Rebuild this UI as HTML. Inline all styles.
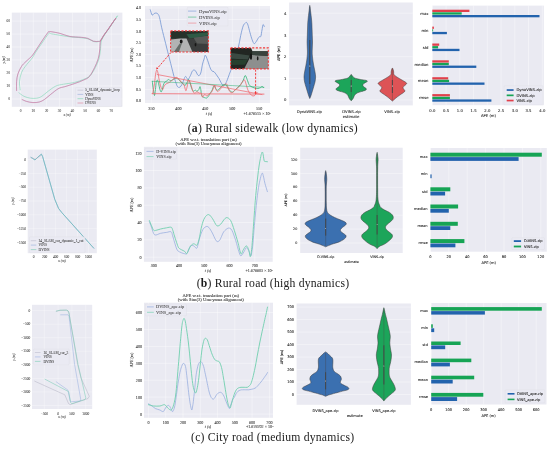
<!DOCTYPE html>
<html lang="en"><head><meta charset="utf-8"><title>APE comparison figure</title>
<style>
html,body{margin:0;padding:0;background:#fff;}
body{width:550px;height:449px;overflow:hidden;}
svg{display:block;}
.ss{font-family:"DejaVu Sans","Liberation Sans",sans-serif;stroke:#2a2a2a;stroke-width:0.1px;}
.se{font-family:"Liberation Serif","DejaVu Serif",serif;stroke:#3a3a3a;stroke-width:0.08px;}
.sei{font-family:"Liberation Serif","DejaVu Serif",serif;font-style:italic;stroke:#3a3a3a;stroke-width:0.08px;}
.lt{stroke-width:0.05px;}
.cap{font-family:"Liberation Serif","DejaVu Serif",serif;}
</style></head><body>
<svg width="550" height="449" viewBox="0 0 550 449">
<defs><filter id="bl" x="-10%" y="-10%" width="120%" height="120%"><feGaussianBlur stdDeviation="0.55"/></filter><filter id="soft" x="0" y="0" width="100%" height="100%" filterUnits="userSpaceOnUse"><feGaussianBlur stdDeviation="0.32"/></filter></defs>
<rect width="550" height="449" fill="#fff"/>
<g filter="url(#soft)">
<rect x="11.8" y="12.6" width="110.6" height="94.2" fill="#eaeaf2"/>
<path d="M20.5,12.6V106.8M33.3,12.6V106.8M46.6,12.6V106.8M59.4,12.6V106.8M72.4,12.6V106.8M85.2,12.6V106.8M98.5,12.6V106.8M111.3,12.6V106.8M11.8,21.1H122.4M11.8,34.1H122.4M11.8,47.0H122.4M11.8,59.9H122.4M11.8,73.0H122.4M11.8,85.9H122.4M11.8,99.0H122.4" stroke="#fff" stroke-width="0.38" fill="none"/>
<text x="9.9" y="22.3" font-size="3.4" text-anchor="end" class="se lt" fill="#444">60</text>
<text x="9.9" y="35.3" font-size="3.4" text-anchor="end" class="se lt" fill="#444">50</text>
<text x="9.9" y="48.2" font-size="3.4" text-anchor="end" class="se lt" fill="#444">40</text>
<text x="9.9" y="61.1" font-size="3.4" text-anchor="end" class="se lt" fill="#444">30</text>
<text x="9.9" y="74.2" font-size="3.4" text-anchor="end" class="se lt" fill="#444">20</text>
<text x="9.9" y="87.1" font-size="3.4" text-anchor="end" class="se lt" fill="#444">10</text>
<text x="9.9" y="100.2" font-size="3.4" text-anchor="end" class="se lt" fill="#444">0</text>
<text x="20.5" y="111.6" font-size="3.4" text-anchor="middle" class="se lt" fill="#444">0</text>
<text x="33.3" y="111.6" font-size="3.4" text-anchor="middle" class="se lt" fill="#444">10</text>
<text x="46.6" y="111.6" font-size="3.4" text-anchor="middle" class="se lt" fill="#444">20</text>
<text x="59.4" y="111.6" font-size="3.4" text-anchor="middle" class="se lt" fill="#444">30</text>
<text x="72.4" y="111.6" font-size="3.4" text-anchor="middle" class="se lt" fill="#444">40</text>
<text x="85.2" y="111.6" font-size="3.4" text-anchor="middle" class="se lt" fill="#444">50</text>
<text x="98.5" y="111.6" font-size="3.4" text-anchor="middle" class="se lt" fill="#444">60</text>
<text x="111.3" y="111.6" font-size="3.4" text-anchor="middle" class="se lt" fill="#444">70</text>
<text x="67.0" y="115.6" font-size="3.4" text-anchor="middle" class="sei lt" fill="#444">x (m)</text>
<text transform="translate(4.5,60.0) rotate(-90)" font-size="3.4" text-anchor="middle" class="sei lt" fill="#444">y (m)</text>
<path d="M20.2,89.9C20.1,88.5 19.3,84.5 19.5,81.6C19.7,78.7 20.5,75.2 21.5,72.7C22.5,70.2 23.5,68.9 25.3,66.4C27.1,63.9 30.6,60.2 32.3,57.9C34.0,55.5 34.0,54.8 35.6,52.3C37.2,49.8 39.9,46.1 42.0,43.0C44.1,39.9 47.1,35.5 48.4,33.9C49.7,32.3 49.4,33.4 50.0,33.4C50.6,33.4 50.1,33.6 51.8,33.9C53.5,34.2 57.0,34.8 60.0,35.3C63.0,35.8 66.4,36.4 70.0,36.8C73.6,37.2 78.4,37.4 81.5,37.8C84.6,38.2 86.5,38.4 88.5,39.0C90.5,39.6 92.1,41.2 93.8,41.6C95.5,42.0 97.6,41.9 98.8,41.6C100.0,41.3 100.2,41.3 101.2,40.0C102.2,38.7 103.7,35.9 105.0,34.0C106.3,32.1 107.7,30.3 109.0,28.4C110.3,26.5 111.6,24.4 113.0,22.4C114.4,20.3 116.6,17.2 117.3,16.1" stroke="#86d8b8" stroke-width="0.65" fill="none" stroke-linejoin="round" stroke-linecap="round" opacity="1"/>
<path d="M117.3,16.1C116.6,17.2 114.4,20.3 113.0,22.4C111.6,24.4 110.3,26.5 109.0,28.4C107.7,30.3 106.2,32.0 105.0,34.0C103.8,36.0 102.3,38.5 101.6,40.2C100.9,41.9 101.1,42.4 100.9,44.0C100.7,45.6 100.7,47.5 100.4,50.0C100.1,52.5 99.8,55.9 99.0,58.8C98.2,61.7 96.8,64.8 95.3,67.6C93.8,70.4 92.1,73.7 90.1,75.7C88.1,77.7 86.1,78.3 83.5,79.4C80.9,80.5 78.0,81.6 74.7,82.4C71.4,83.2 66.7,83.6 63.5,84.2C60.4,84.8 58.3,84.9 55.8,86.1C53.2,87.3 50.5,89.5 48.2,91.2C45.9,92.9 43.7,95.1 41.8,96.3C39.9,97.5 38.6,97.9 36.7,98.2C34.8,98.5 32.5,98.5 30.4,98.2C28.3,97.9 25.9,97.2 24.0,96.3C22.1,95.4 19.8,93.4 18.9,92.8" stroke="#86d8b8" stroke-width="0.65" fill="none" stroke-linejoin="round" stroke-linecap="round" opacity="1"/>
<path d="M16.6,90.5C16.6,89.0 16.4,84.3 16.6,81.6C16.8,78.8 17.1,76.5 17.9,74.0C18.7,71.5 20.4,68.2 21.5,66.4C22.6,64.6 22.9,64.5 24.5,62.9C26.1,61.3 29.7,58.2 31.2,56.7C32.7,55.2 31.9,56.1 33.4,54.0C34.9,51.9 37.6,47.6 40.0,44.0C42.4,40.4 46.3,34.5 47.9,32.5C49.5,30.5 49.0,31.9 49.5,31.8C50.0,31.7 49.4,31.4 51.2,31.7C53.0,32.0 57.0,32.6 60.1,33.4C63.2,34.2 66.5,35.9 70.0,36.5C73.5,37.1 78.1,37.0 81.1,37.3C84.1,37.6 85.8,37.8 87.8,38.4C89.8,39.0 91.6,40.7 93.4,41.2C95.2,41.7 97.2,41.5 98.4,41.4C99.6,41.3 99.7,41.5 100.6,40.4C101.5,39.3 102.8,36.8 104.0,35.0C105.2,33.2 106.7,31.4 108.0,29.5C109.3,27.6 110.7,25.5 112.0,23.6C113.3,21.8 115.1,19.3 115.7,18.4" stroke="#a596cc" stroke-width="0.75" fill="none" stroke-linejoin="round" stroke-linecap="round" opacity="0.7"/>
<path d="M115.7,18.4C115.1,19.3 113.3,21.8 112.0,23.6C110.7,25.5 109.3,27.6 108.0,29.5C106.7,31.4 105.2,33.2 104.0,35.0C102.8,36.8 101.5,38.9 100.8,40.4C100.1,41.9 100.3,42.4 100.1,44.0C99.9,45.6 100.0,47.5 99.7,50.0C99.4,52.5 99.1,55.9 98.2,58.8C97.3,61.7 96.1,64.6 94.6,67.6C93.1,70.5 91.2,74.4 89.4,76.5C87.6,78.6 86.0,78.9 83.5,80.1C81.0,81.3 77.8,82.4 74.7,83.5C71.6,84.6 67.4,85.9 64.7,86.7C62.0,87.5 60.7,87.3 58.4,88.6C56.1,89.9 53.0,92.6 50.7,94.4C48.4,96.2 46.3,98.2 44.4,99.5C42.5,100.8 41.2,101.5 39.3,102.0C37.4,102.5 35.0,102.7 32.9,102.6C30.8,102.5 28.3,101.9 26.5,101.4C24.7,100.9 22.8,99.8 22.1,99.5" stroke="#a596cc" stroke-width="0.75" fill="none" stroke-linejoin="round" stroke-linecap="round" opacity="0.7"/>
<path d="M16.6,90.5C16.6,89.0 16.4,84.3 16.6,81.6C16.8,78.8 17.1,76.5 17.9,74.0C18.7,71.5 20.4,68.2 21.5,66.4C22.6,64.6 22.9,64.5 24.5,62.9C26.1,61.3 29.7,58.2 31.2,56.7C32.7,55.2 31.9,56.1 33.4,54.0C34.9,51.9 37.6,47.6 40.0,44.0C42.4,40.4 46.3,34.5 47.9,32.5C49.5,30.5 49.0,31.9 49.5,31.8C50.0,31.7 49.4,31.4 51.2,31.7C53.0,32.0 57.0,32.6 60.1,33.4C63.2,34.2 66.5,35.9 70.0,36.5C73.5,37.1 78.1,37.0 81.1,37.3C84.1,37.6 85.8,37.8 87.8,38.4C89.8,39.0 91.6,40.7 93.4,41.2C95.2,41.7 97.2,41.5 98.4,41.4C99.6,41.3 99.7,41.5 100.6,40.4C101.5,39.3 102.8,36.8 104.0,35.0C105.2,33.2 106.7,31.4 108.0,29.5C109.3,27.6 110.7,25.5 112.0,23.6C113.3,21.8 115.1,19.3 115.7,18.4" stroke="#da6c88" stroke-width="0.45" fill="none" stroke-linejoin="round" stroke-linecap="round" opacity="1"/>
<path d="M115.7,18.4C115.1,19.3 113.3,21.8 112.0,23.6C110.7,25.5 109.3,27.6 108.0,29.5C106.7,31.4 105.2,33.2 104.0,35.0C102.8,36.8 101.5,38.9 100.8,40.4C100.1,41.9 100.3,42.4 100.1,44.0C99.9,45.6 100.0,47.5 99.7,50.0C99.4,52.5 99.1,55.9 98.2,58.8C97.3,61.7 96.1,64.6 94.6,67.6C93.1,70.5 91.2,74.4 89.4,76.5C87.6,78.6 86.0,78.9 83.5,80.1C81.0,81.3 77.8,82.4 74.7,83.5C71.6,84.6 67.4,85.9 64.7,86.7C62.0,87.5 60.7,87.3 58.4,88.6C56.1,89.9 53.0,92.6 50.7,94.4C48.4,96.2 46.3,98.2 44.4,99.5C42.5,100.8 41.2,101.5 39.3,102.0C37.4,102.5 35.0,102.7 32.9,102.6C30.8,102.5 28.3,101.9 26.5,101.4C24.7,100.9 22.8,99.8 22.1,99.5" stroke="#da6c88" stroke-width="0.45" fill="none" stroke-linejoin="round" stroke-linecap="round" opacity="1"/>
<rect x="75.5" y="87.5" width="46.3" height="19.1" fill="#eaeaf2" fill-opacity="0.8" stroke="#d8d8e0" stroke-width="0.3" rx="0.8"/>
<path d="M77.5,90.2H83.3" stroke="#c4c4d2" stroke-width="0.65"/>
<text x="85.3" y="91.4" font-size="3.45" text-anchor="start" class="se lt" fill="#444">5_SLAM_dynamic_loop</text>
<path d="M77.5,94.4H83.3" stroke="#9fb2dc" stroke-width="0.65"/>
<text x="85.3" y="95.6" font-size="3.45" text-anchor="start" class="se lt" fill="#444">VINS</text>
<path d="M77.5,98.7H83.3" stroke="#86d8b8" stroke-width="0.65"/>
<text x="85.3" y="99.9" font-size="3.45" text-anchor="start" class="se lt" fill="#444">DynaVINS</text>
<path d="M77.5,103.0H83.3" stroke="#e08a9e" stroke-width="0.65"/>
<text x="85.3" y="104.2" font-size="3.45" text-anchor="start" class="se lt" fill="#444">DVINS</text>
<rect x="145" y="6.2" width="125.0" height="96.6" fill="#eaeaf2"/>
<path d="M151.4,6.2V102.8M178.4,6.2V102.8M205.3,6.2V102.8M232.3,6.2V102.8M259.3,6.2V102.8M145,7.9H270M145,19.5H270M145,31.1H270M145,42.8H270M145,54.6H270M145,65.9H270M145,77.6H270M145,89.4H270M145,101.0H270" stroke="#fff" stroke-width="0.38" fill="none"/>
<text x="141.0" y="9.3" font-size="4.1" text-anchor="end" class="se" fill="#3a3a3a">4.0</text>
<text x="141.0" y="20.9" font-size="4.1" text-anchor="end" class="se" fill="#3a3a3a">3.5</text>
<text x="141.0" y="32.5" font-size="4.1" text-anchor="end" class="se" fill="#3a3a3a">3.0</text>
<text x="141.0" y="44.2" font-size="4.1" text-anchor="end" class="se" fill="#3a3a3a">2.5</text>
<text x="141.0" y="56.0" font-size="4.1" text-anchor="end" class="se" fill="#3a3a3a">2.0</text>
<text x="141.0" y="67.3" font-size="4.1" text-anchor="end" class="se" fill="#3a3a3a">1.5</text>
<text x="141.0" y="79.0" font-size="4.1" text-anchor="end" class="se" fill="#3a3a3a">1.0</text>
<text x="141.0" y="90.8" font-size="4.1" text-anchor="end" class="se" fill="#3a3a3a">0.5</text>
<text x="141.0" y="102.4" font-size="4.1" text-anchor="end" class="se" fill="#3a3a3a">0.0</text>
<text x="151.4" y="109.8" font-size="4.1" text-anchor="middle" class="se" fill="#3a3a3a">350</text>
<text x="178.4" y="109.8" font-size="4.1" text-anchor="middle" class="se" fill="#3a3a3a">400</text>
<text x="205.3" y="109.8" font-size="4.1" text-anchor="middle" class="se" fill="#3a3a3a">450</text>
<text x="232.3" y="109.8" font-size="4.1" text-anchor="middle" class="se" fill="#3a3a3a">500</text>
<text x="259.3" y="109.8" font-size="4.1" text-anchor="middle" class="se" fill="#3a3a3a">550</text>
<text x="209.0" y="114.8" font-size="4.1" text-anchor="middle" class="sei" fill="#3a3a3a">t (s)</text>
<text x="271.0" y="114.8" font-size="4.1" text-anchor="end" class="se" fill="#3a3a3a">+1.676515 × 10⁹</text>
<text transform="translate(133.0,55.0) rotate(-90)" font-size="4.1" text-anchor="middle" class="se" fill="#3a3a3a">APE (m)</text>
<path d="M150.3,9.8C150.6,10.7 151.5,14.4 152.1,15.0C152.7,15.6 153.4,13.9 154.1,13.6C154.8,13.3 155.4,12.9 156.1,13.0C156.8,13.1 157.6,13.5 158.2,14.3C158.8,15.1 159.0,15.5 159.6,17.7C160.2,19.9 160.9,24.3 161.6,27.3C162.3,30.3 162.9,32.8 163.6,35.5C164.3,38.2 165.0,41.0 165.7,43.7C166.4,46.4 167.0,49.1 167.7,51.8C168.4,54.5 169.2,57.5 169.8,60.0C170.5,62.5 170.9,64.3 171.6,67.1C172.3,69.8 173.3,73.8 174.0,76.5C174.7,79.2 175.4,81.3 176.0,83.0C176.6,84.7 176.9,85.9 177.5,86.6C178.1,87.3 178.7,87.5 179.3,87.4C179.9,87.3 180.4,86.8 181.0,86.0C181.6,85.2 182.2,83.9 182.8,82.5C183.4,81.1 184.1,78.7 184.6,77.7C185.1,76.7 185.4,76.4 185.8,76.5C186.2,76.6 186.6,77.8 187.0,78.3C187.4,78.8 187.5,80.0 188.1,79.5C188.7,79.0 189.8,76.8 190.5,75.4C191.2,74.0 191.7,72.1 192.3,71.2C192.9,70.3 193.4,70.0 194.0,70.0C194.6,70.0 195.2,70.4 195.8,71.2C196.4,72.0 197.0,74.1 197.6,74.8C198.2,75.5 198.8,75.9 199.4,75.4C200.0,74.9 200.6,73.7 201.1,71.8C201.6,69.9 202.0,66.2 202.5,64.1C203.0,62.0 203.6,60.5 204.1,59.0C204.6,57.5 204.7,55.0 205.3,55.2C205.9,55.4 206.8,58.2 207.6,60.3C208.4,62.4 209.4,66.1 210.2,67.9C210.9,69.7 211.5,70.5 212.1,71.1C212.7,71.7 213.3,71.1 214.0,71.7C214.7,72.3 215.7,73.7 216.5,74.9C217.3,76.1 218.3,77.4 219.1,78.7C219.8,80.0 220.4,81.4 221.0,82.5C221.6,83.6 222.3,84.7 222.9,85.1C223.5,85.5 224.2,85.3 224.8,84.7C225.4,84.1 225.9,83.0 226.7,81.3C227.4,79.6 228.6,76.3 229.3,74.3C230.1,72.3 230.3,71.9 231.2,69.2C232.1,66.5 233.3,61.7 234.5,58.0C235.7,54.3 237.4,50.9 238.4,47.1C239.4,43.4 239.9,39.0 240.7,35.5C241.5,32.0 242.4,27.9 243.2,25.9C243.9,23.8 244.6,23.8 245.2,23.2C245.8,22.6 246.1,22.2 246.6,22.5C247.1,22.8 247.4,23.5 248.0,25.2C248.6,26.9 249.3,30.3 250.0,32.7C250.7,35.1 251.4,37.8 252.1,39.6C252.8,41.4 253.4,43.4 254.1,43.7C254.8,44.0 255.5,42.5 256.2,41.6C256.9,40.7 257.6,39.0 258.2,38.2C258.8,37.4 259.2,36.9 259.6,36.6C260.1,36.3 260.5,37.3 260.9,36.2C261.3,35.1 261.6,31.9 262.0,30.0C262.4,28.1 262.6,25.2 263.0,24.6C263.4,24.0 264.1,26.3 264.3,26.6" stroke="#6a8fd0" stroke-width="0.75" fill="none" stroke-linejoin="round" stroke-linecap="round" opacity="1"/>
<path d="M152.3,81.3C152.5,82.7 152.9,87.2 153.3,89.6C153.7,92.0 154.2,95.5 154.5,95.5C154.8,95.5 155.1,91.8 155.4,89.6C155.7,87.4 155.9,84.1 156.2,82.5C156.5,80.9 157.0,79.9 157.4,80.1C157.8,80.3 158.2,82.1 158.6,83.6C159.0,85.1 159.4,87.6 159.8,89.0C160.2,90.4 160.6,91.7 161.0,91.9C161.4,92.1 161.7,91.2 162.1,90.1C162.5,89.0 162.9,86.7 163.3,85.4C163.7,84.1 164.0,83.2 164.5,82.5C165.0,81.8 165.6,81.8 166.3,81.3C167.0,80.8 167.9,79.6 168.6,79.5C169.3,79.4 169.8,80.6 170.4,80.7C171.0,80.8 171.6,80.4 172.2,80.1C172.8,79.8 173.3,79.2 174.0,78.9C174.7,78.6 175.5,78.2 176.3,78.3C177.1,78.4 177.9,78.9 178.7,79.5C179.5,80.1 180.2,81.1 181.0,81.9C181.8,82.7 182.7,83.6 183.4,84.2C184.1,84.8 184.6,85.7 185.2,85.4C185.8,85.1 186.4,83.5 187.0,82.5C187.6,81.5 188.0,79.5 188.5,79.5C189.0,79.5 189.4,81.0 189.9,82.5C190.4,84.0 191.1,86.9 191.7,88.4C192.3,89.9 192.9,91.0 193.5,91.3C194.1,91.6 194.6,90.1 195.2,90.1C195.8,90.1 196.4,91.4 197.0,91.3C197.6,91.2 198.3,90.4 198.8,89.6C199.3,88.8 199.7,86.6 200.0,86.6C200.3,86.6 200.5,88.0 200.8,89.6C201.1,91.1 201.2,94.5 201.9,95.9C202.6,97.3 204.2,97.5 205.1,97.8C205.9,98.1 206.3,98.3 207.0,97.8C207.7,97.3 208.7,95.9 209.5,94.6C210.3,93.3 211.3,91.7 212.1,90.2C212.8,88.7 213.4,85.9 214.0,85.7C214.6,85.5 215.3,88.2 215.9,88.9C216.5,89.7 217.1,90.4 217.8,90.2C218.6,90.0 219.6,88.4 220.4,87.6C221.2,86.8 222.1,85.6 222.9,85.1C223.8,84.6 224.8,84.2 225.5,84.5C226.2,84.8 226.7,86.0 227.4,87.0C228.1,88.0 229.1,90.0 229.9,90.8C230.8,91.6 231.7,92.2 232.5,92.1C233.3,92.0 234.2,91.0 235.0,90.2C235.8,89.5 236.6,88.5 237.5,87.6C238.4,86.6 239.7,85.8 240.7,84.5C241.7,83.2 242.6,81.5 243.3,80.0C244.1,78.5 244.6,75.6 245.2,75.5C245.8,75.4 246.5,77.9 247.1,79.4C247.7,80.9 248.4,83.3 249.0,84.5C249.6,85.7 250.0,85.8 250.9,86.4C251.8,87.0 253.5,87.7 254.7,88.0C255.9,88.3 256.9,88.6 257.9,88.5C258.9,88.4 259.8,87.9 260.5,87.6C261.2,87.2 261.5,86.4 262.0,86.4C262.5,86.4 263.3,87.4 263.6,87.6" stroke="#2fb474" stroke-width="0.8" fill="none" stroke-linejoin="round" stroke-linecap="round" opacity="1"/>
<path d="M152.7,93.7C153.0,92.0 154.0,86.8 154.5,83.6C155.0,80.3 155.2,76.5 155.6,74.2C156.0,71.9 156.4,70.2 156.8,70.0C157.2,69.8 157.6,71.3 158.0,73.0C158.4,74.7 158.7,77.7 159.2,80.1C159.7,82.5 160.4,85.6 161.0,87.2C161.6,88.8 162.2,89.7 162.7,89.6C163.2,89.5 163.4,87.5 163.9,86.6C164.4,85.7 165.0,84.8 165.7,84.2C166.4,83.6 167.2,83.4 168.0,83.0C168.8,82.6 169.6,82.5 170.4,81.9C171.2,81.3 172.0,80.2 172.8,79.5C173.6,78.8 174.4,78.0 175.1,77.7C175.8,77.4 176.2,77.2 176.9,77.5C177.6,77.8 178.5,78.7 179.3,79.5C180.1,80.3 180.8,81.6 181.6,82.5C182.4,83.4 183.3,83.4 184.0,84.8C184.7,86.2 185.3,90.3 185.8,90.7C186.3,91.1 186.6,88.7 187.0,87.2C187.4,85.7 187.7,83.0 188.1,81.9C188.5,80.8 188.8,80.1 189.3,80.7C189.8,81.3 190.5,83.6 191.1,85.4C191.7,87.2 192.3,90.0 192.9,91.3C193.5,92.6 193.9,93.0 194.6,93.1C195.3,93.2 196.2,91.9 197.0,91.9C197.8,91.9 198.7,92.8 199.4,93.1C200.1,93.3 200.8,92.7 201.3,93.4C201.8,94.1 202.0,97.0 202.5,97.2C203.0,97.4 203.8,94.8 204.5,94.6C205.2,94.4 206.3,96.0 207.0,95.9C207.7,95.8 208.2,94.6 208.9,94.0C209.7,93.4 210.8,93.0 211.5,92.1C212.2,91.1 212.9,89.5 213.4,88.3C213.9,87.1 214.2,84.9 214.6,85.1C215.0,85.3 215.4,88.4 215.9,89.5C216.4,90.6 217.1,91.6 217.8,91.5C218.6,91.4 219.6,89.8 220.4,88.9C221.2,88.1 222.0,87.2 222.9,86.4C223.8,85.6 225.3,83.9 226.1,83.8C226.8,83.7 226.9,84.5 227.4,85.7C227.9,86.9 228.6,89.6 229.3,90.8C230.0,92.0 231.0,92.7 231.8,92.7C232.7,92.7 233.6,91.5 234.4,90.8C235.2,90.1 236.1,89.0 236.9,88.3C237.8,87.6 238.7,87.4 239.5,86.4C240.3,85.4 241.2,83.6 242.0,82.5C242.8,81.4 243.9,79.9 244.5,80.0C245.1,80.1 245.3,81.8 245.8,83.2C246.3,84.6 246.8,86.8 247.3,88.3C247.8,89.8 248.3,90.9 249.0,92.1C249.7,93.3 250.7,94.7 251.5,95.3C252.3,95.9 253.3,96.1 254.1,95.9C254.8,95.7 255.5,94.5 256.0,94.0C256.5,93.5 257.1,92.9 257.3,92.7" stroke="#f0686f" stroke-width="0.8" fill="none" stroke-linejoin="round" stroke-linecap="round" opacity="1"/>
<path d="M157.2,74.5 L262.0,94.6" stroke="#f0686f" stroke-width="0.8" fill="none" stroke-linejoin="round" stroke-linecap="round" opacity="0.9"/>
<path d="M152.0,93.7 L264.0,94.1" stroke="#f0686f" stroke-width="0.9" fill="none" stroke-linejoin="round" stroke-linecap="round" opacity="0.9"/>
<path d="M152.3,81.3 L264.0,87.3" stroke="#2fb474" stroke-width="0.7" fill="none" stroke-linejoin="round" stroke-linecap="round" opacity="0.75"/>
<rect x="187.2" y="7.1" width="40.8" height="18.9" fill="#eaeaf2" fill-opacity="0.8" stroke="#d8d8e0" stroke-width="0.3" rx="0.8"/>
<path d="M188,11.1H196.4" stroke="#7d9cd8" stroke-width="0.65"/>
<text x="199.1" y="12.7" font-size="4.6" text-anchor="start" class="se lt" fill="#444">DynaVINS.zip</text>
<path d="M188,17.1H196.4" stroke="#4fbc86" stroke-width="0.65"/>
<text x="199.1" y="18.7" font-size="4.6" text-anchor="start" class="se lt" fill="#444">DVINS.zip</text>
<path d="M188,23.1H196.4" stroke="#f0828a" stroke-width="0.65"/>
<text x="199.1" y="24.7" font-size="4.6" text-anchor="start" class="se lt" fill="#444">VINS.zip</text>
<g transform="translate(170.6,30.9)">
<clipPath id="c1"><rect width="37.8" height="21.1"/></clipPath>
<g clip-path="url(#c1)"><g filter="url(#bl)">
<rect x="-2" y="-2" width="41.8" height="25.1" fill="#3b3e3c"/>
<rect x="-2" y="-2" width="41.8" height="9.6" fill="#28312c"/>
<polygon points="22.7,6.3 39.8,4.6 39.8,13.1 26.5,12.7" fill="#585a59"/>
<polygon points="-2,23.1 -2,8.9 9.5,7.6 15.9,7.6 22.7,23.1" fill="#b2b3b3"/>
<polygon points="1.9,23.1 9.1,12.7 11.3,12.7 7.6,23.1" fill="#666d69"/>
<polygon points="15.9,3.4 39.8,1.3 39.8,4.2 18.9,7.6" fill="#2f5a45"/>
<ellipse cx="10.6" cy="10.6" rx="1.4" ry="2" fill="#141414"/>
<ellipse cx="24.9" cy="13.9" rx="0.9" ry="1.8" fill="#161616"/>
</g></g>
<rect width="37.8" height="21.1" fill="none" stroke="#f23a3a" stroke-width="1.1" stroke-dasharray="2.1 1.5"/>
</g>
<g transform="translate(230.6,47.9)">
<clipPath id="c2"><rect width="37.7" height="21.0"/></clipPath>
<g clip-path="url(#c2)"><g filter="url(#bl)">
<rect x="-2" y="-2" width="41.7" height="25.0" fill="#202622"/>
<polygon points="12.4,23.000000000000007 20.7,7.1 39.70000000000002,8.0 39.70000000000002,23.000000000000007" fill="#8d8f8e"/>
<polygon points="19.6,-2 39.70000000000002,-2 39.70000000000002,3.4 21.9,3.4" fill="#e4e5e5"/>
<polygon points="21.9,3.4 39.70000000000002,3.4 39.70000000000002,8.0 21.1,7.1" fill="#38433c"/>
<polygon points="-2,4.6 18.9,7.6 17.3,11.6 -2,10.5" fill="#3b4a42"/>
<polygon points="-2,11.6 17.0,12.2 14.3,16.8 -2,17.2" fill="#26402f"/>
<ellipse cx="20.4" cy="8.8" rx="1.1" ry="3.2" fill="#121212"/>
<ellipse cx="27.1" cy="10.5" rx="0.8" ry="2.1" fill="#1c1c1c"/>
</g></g>
<rect width="37.7" height="21.0" fill="none" stroke="#f23a3a" stroke-width="1.1" stroke-dasharray="2.1 1.5"/>
</g>
<path d="M171,52.4 L156.8,69" stroke="#f03030" stroke-width="0.9" stroke-dasharray="2.2 1.2" fill="none"/>
<path d="M255.6,69.5 V92.5" stroke="#f03030" stroke-width="0.9" stroke-dasharray="2.2 1.4" fill="none"/>
<path d="M255.6,94.5 l-1.1,-2.6 h2.2z" fill="#f03030"/>
<path d="M156.3,69.6 l0.4,-2.6 1.7,1.5z" fill="#f03030"/>
<rect x="289.1" y="2.5" width="123.7" height="102.9" fill="#eaeaf2"/>
<path d="M289.1,13.2H412.8M289.1,35.0H412.8M289.1,56.7H412.8M289.1,78.3H412.8M289.1,99.9H412.8" stroke="#fff" stroke-width="0.38" fill="none"/>
<text x="286.3" y="14.7" font-size="3.75" text-anchor="end" class="ss" fill="#2a2a2a">4</text>
<text x="286.3" y="36.5" font-size="3.75" text-anchor="end" class="ss" fill="#2a2a2a">3</text>
<text x="286.3" y="58.2" font-size="3.75" text-anchor="end" class="ss" fill="#2a2a2a">2</text>
<text x="286.3" y="79.8" font-size="3.75" text-anchor="end" class="ss" fill="#2a2a2a">1</text>
<text x="286.3" y="101.4" font-size="3.75" text-anchor="end" class="ss" fill="#2a2a2a">0</text>
<text transform="translate(280.3,53.5) rotate(-90)" font-size="3.75" text-anchor="middle" class="ss" fill="#2a2a2a">APE (m)</text>
<path d="M309.9,5.5C310.0,6.1 310.2,7.8 310.3,9.0C310.4,10.2 310.6,11.5 310.8,13.0C311.0,14.5 311.2,16.2 311.4,18.0C311.6,19.8 311.8,22.0 311.9,24.0C312.0,26.0 312.0,28.0 312.1,30.0C312.2,32.0 312.2,34.0 312.3,36.0C312.4,38.0 312.5,40.0 312.5,42.0C312.5,44.0 312.4,46.0 312.3,48.0C312.2,50.0 312.1,52.0 312.2,54.0C312.3,56.0 312.5,58.0 312.8,60.0C313.1,62.0 313.4,64.0 313.8,66.0C314.2,68.0 314.7,70.2 315.0,72.0C315.3,73.8 315.6,75.3 315.6,77.0C315.6,78.7 315.3,80.3 315.0,82.0C314.7,83.7 314.0,85.5 313.6,87.0C313.2,88.5 312.8,89.7 312.4,91.0C312.0,92.3 311.6,93.8 311.2,95.0C310.8,96.2 310.1,97.8 309.9,98.4L309.7,98.4C309.5,97.8 308.8,96.2 308.4,95.0C308.0,93.8 307.6,92.3 307.2,91.0C306.8,89.7 306.4,88.5 306.0,87.0C305.6,85.5 304.9,83.7 304.6,82.0C304.3,80.3 304.0,78.7 304.0,77.0C304.0,75.3 304.3,73.8 304.6,72.0C304.9,70.2 305.4,68.0 305.8,66.0C306.2,64.0 306.5,62.0 306.8,60.0C307.1,58.0 307.3,56.0 307.4,54.0C307.5,52.0 307.4,50.0 307.3,48.0C307.2,46.0 307.1,44.0 307.1,42.0C307.1,40.0 307.2,38.0 307.3,36.0C307.4,34.0 307.4,32.0 307.5,30.0C307.6,28.0 307.6,26.0 307.7,24.0C307.8,22.0 308.0,19.8 308.2,18.0C308.4,16.2 308.6,14.5 308.8,13.0C309.0,11.5 309.2,10.2 309.3,9.0C309.4,7.8 309.6,6.1 309.7,5.5Z" fill="#3a6fb0" stroke="#3a3a3a" stroke-width="0.5" stroke-linejoin="round"/>
<path d="M309.8,7V97.5" stroke="#444" stroke-width="0.35"/><path d="M309.8,40V84" stroke="#444" stroke-width="0.9"/><circle cx="309.8" cy="66" r="0.5" fill="#fff"/>
<path d="M351.3,74.4C351.5,74.7 351.9,75.4 352.5,76.0C353.1,76.6 353.3,77.4 354.6,78.0C355.9,78.6 358.3,79.0 360.2,79.4C362.1,79.8 364.5,80.0 365.7,80.3C366.9,80.6 367.4,80.8 367.4,81.2C367.4,81.6 366.3,82.0 365.7,82.4C365.1,82.8 364.0,83.3 363.5,83.8C363.0,84.3 362.8,84.7 362.8,85.2C362.8,85.7 363.2,86.3 363.7,86.8C364.2,87.3 365.4,87.8 365.8,88.2C366.2,88.6 366.5,88.9 366.4,89.3C366.3,89.7 366.1,90.0 365.2,90.4C364.3,90.8 362.5,91.2 361.2,91.6C359.9,92.0 358.2,92.5 357.2,93.0C356.2,93.5 355.7,94.0 355.2,94.5C354.7,95.0 354.5,95.4 354.2,96.0C353.9,96.6 353.7,97.4 353.4,98.0C353.1,98.6 352.8,99.1 352.4,99.6C352.0,100.0 351.5,100.5 351.3,100.7L351.1,100.7C350.9,100.5 350.4,100.0 350.0,99.6C349.6,99.1 349.3,98.6 349.0,98.0C348.7,97.4 348.5,96.6 348.2,96.0C347.9,95.4 347.7,95.0 347.2,94.5C346.7,94.0 346.2,93.5 345.2,93.0C344.2,92.5 342.5,92.0 341.2,91.6C339.9,91.2 338.1,90.8 337.2,90.4C336.3,90.0 336.1,89.7 336.0,89.3C335.9,88.9 336.1,88.6 336.6,88.2C337.0,87.8 338.2,87.3 338.7,86.8C339.2,86.3 339.6,85.7 339.6,85.2C339.6,84.7 339.4,84.3 338.9,83.8C338.4,83.3 337.3,82.8 336.7,82.4C336.1,82.0 335.0,81.6 335.0,81.2C335.0,80.8 335.5,80.6 336.7,80.3C337.9,80.0 340.3,79.8 342.2,79.4C344.1,79.0 346.5,78.6 347.8,78.0C349.1,77.4 349.3,76.6 349.9,76.0C350.4,75.4 350.9,74.7 351.1,74.4Z" fill="#1fa55a" stroke="#3a3a3a" stroke-width="0.5" stroke-linejoin="round"/>
<path d="M351.2,75V100.3" stroke="#444" stroke-width="0.35"/><path d="M351.2,80V92" stroke="#444" stroke-width="0.9"/><circle cx="351.2" cy="86" r="0.5" fill="#fff"/>
<path d="M392.5,68.0C392.6,68.3 393.1,69.3 393.3,70.0C393.5,70.7 393.6,71.3 393.7,72.0C393.8,72.7 393.5,73.4 393.7,74.0C393.9,74.6 394.3,75.0 394.8,75.5C395.3,76.0 395.7,76.2 396.9,77.0C398.1,77.8 400.4,79.1 401.9,80.0C403.4,80.9 404.9,81.7 405.7,82.3C406.5,82.9 406.8,83.1 406.7,83.6C406.6,84.0 405.9,84.5 405.4,85.0C404.9,85.5 404.0,86.1 403.6,86.6C403.2,87.1 402.9,87.5 403.0,88.0C403.1,88.5 403.7,89.0 404.0,89.5C404.3,90.0 405.1,90.5 405.0,91.0C404.9,91.5 404.4,91.8 403.6,92.5C402.7,93.2 401.2,94.1 399.9,95.0C398.6,95.9 396.9,97.2 395.9,98.0C394.9,98.8 394.5,99.3 393.9,99.8C393.3,100.3 392.7,100.8 392.5,101.0L392.3,101.0C392.1,100.8 391.5,100.3 390.9,99.8C390.3,99.3 389.9,98.8 388.9,98.0C387.9,97.2 386.2,95.9 384.9,95.0C383.6,94.1 382.1,93.2 381.2,92.5C380.3,91.8 379.9,91.5 379.8,91.0C379.7,90.5 380.5,90.0 380.8,89.5C381.1,89.0 381.7,88.5 381.8,88.0C381.9,87.5 381.6,87.1 381.2,86.6C380.8,86.1 379.9,85.5 379.4,85.0C378.9,84.5 378.1,84.0 378.1,83.6C378.0,83.1 378.3,82.9 379.1,82.3C379.9,81.7 381.4,80.9 382.9,80.0C384.4,79.1 386.7,77.8 387.9,77.0C389.1,76.2 389.5,76.0 390.0,75.5C390.5,75.0 390.9,74.6 391.1,74.0C391.3,73.4 391.0,72.7 391.1,72.0C391.2,71.3 391.3,70.7 391.5,70.0C391.7,69.3 392.2,68.3 392.3,68.0Z" fill="#dd5257" stroke="#3a3a3a" stroke-width="0.5" stroke-linejoin="round"/>
<path d="M392.4,69V100.5" stroke="#444" stroke-width="0.35"/><path d="M392.4,80V93" stroke="#444" stroke-width="0.9"/><circle cx="392.4" cy="86" r="0.5" fill="#fff"/>
<text x="309.4" y="112.5" font-size="3.75" text-anchor="middle" class="ss" fill="#2a2a2a">DynaVINS.zip</text>
<text x="351.4" y="112.5" font-size="3.75" text-anchor="middle" class="ss" fill="#2a2a2a">DVINS.zip</text>
<text x="392.1" y="112.5" font-size="3.75" text-anchor="middle" class="ss" fill="#2a2a2a">VINS.zip</text>
<text x="351.0" y="117.8" font-size="3.75" text-anchor="middle" class="ss" fill="#2a2a2a">estimate</text>
<rect x="432.3" y="5.6" width="111.6" height="99.6" fill="#eaeaf2"/>
<path d="M432.3,5.6V105.2M446.1,5.6V105.2M459.8,5.6V105.2M473.6,5.6V105.2M487.3,5.6V105.2M501.1,5.6V105.2M514.8,5.6V105.2M528.5,5.6V105.2M542.3,5.6V105.2" stroke="#fff" stroke-width="0.38" fill="none"/>
<rect x="432.3" y="9.7" width="37.1" height="2.3" fill="#e2414c"/>
<rect x="432.3" y="12.3" width="29.4" height="2.3" fill="#16a454"/>
<rect x="432.3" y="15.0" width="107.2" height="2.3" fill="#2463ad"/>
<rect x="432.3" y="26.6" width="1.6" height="2.3" fill="#e2414c"/>
<rect x="432.3" y="29.2" width="0.8" height="2.3" fill="#16a454"/>
<rect x="432.3" y="31.9" width="14.6" height="2.3" fill="#2463ad"/>
<rect x="432.3" y="43.5" width="6.9" height="2.3" fill="#e2414c"/>
<rect x="432.3" y="46.1" width="5.8" height="2.3" fill="#16a454"/>
<rect x="432.3" y="48.8" width="27.2" height="2.3" fill="#2463ad"/>
<rect x="432.3" y="60.3" width="16.5" height="2.3" fill="#e2414c"/>
<rect x="432.3" y="62.9" width="16.5" height="2.3" fill="#16a454"/>
<rect x="432.3" y="65.6" width="44.0" height="2.3" fill="#2463ad"/>
<rect x="432.3" y="77.2" width="15.9" height="2.3" fill="#e2414c"/>
<rect x="432.3" y="79.8" width="16.8" height="2.3" fill="#16a454"/>
<rect x="432.3" y="82.5" width="52.2" height="2.3" fill="#2463ad"/>
<rect x="432.3" y="94.1" width="17.6" height="2.3" fill="#e2414c"/>
<rect x="432.3" y="96.8" width="17.6" height="2.3" fill="#16a454"/>
<rect x="432.3" y="99.4" width="59.1" height="2.3" fill="#2463ad"/>
<text x="428.5" y="14.9" font-size="3.75" text-anchor="end" class="ss" fill="#2a2a2a">max</text>
<text x="428.5" y="31.8" font-size="3.75" text-anchor="end" class="ss" fill="#2a2a2a">min</text>
<text x="428.5" y="48.7" font-size="3.75" text-anchor="end" class="ss" fill="#2a2a2a">std</text>
<text x="428.5" y="65.5" font-size="3.75" text-anchor="end" class="ss" fill="#2a2a2a">median</text>
<text x="428.5" y="82.4" font-size="3.75" text-anchor="end" class="ss" fill="#2a2a2a">mean</text>
<text x="428.5" y="99.3" font-size="3.75" text-anchor="end" class="ss" fill="#2a2a2a">rmse</text>
<text x="432.3" y="112.0" font-size="3.75" text-anchor="middle" class="ss" fill="#2a2a2a">0.0</text>
<text x="446.1" y="112.0" font-size="3.75" text-anchor="middle" class="ss" fill="#2a2a2a">0.5</text>
<text x="459.8" y="112.0" font-size="3.75" text-anchor="middle" class="ss" fill="#2a2a2a">1.0</text>
<text x="473.6" y="112.0" font-size="3.75" text-anchor="middle" class="ss" fill="#2a2a2a">1.5</text>
<text x="487.3" y="112.0" font-size="3.75" text-anchor="middle" class="ss" fill="#2a2a2a">2.0</text>
<text x="501.1" y="112.0" font-size="3.75" text-anchor="middle" class="ss" fill="#2a2a2a">2.5</text>
<text x="514.8" y="112.0" font-size="3.75" text-anchor="middle" class="ss" fill="#2a2a2a">3.0</text>
<text x="528.5" y="112.0" font-size="3.75" text-anchor="middle" class="ss" fill="#2a2a2a">3.5</text>
<text x="542.3" y="112.0" font-size="3.75" text-anchor="middle" class="ss" fill="#2a2a2a">4.0</text>
<text x="488.5" y="117.4" font-size="3.75" text-anchor="middle" class="ss" fill="#2a2a2a">APE (m)</text>
<rect x="504" y="85.7" width="39.0" height="19.2" fill="#eaeaf2" fill-opacity="0.8" stroke="#d8d8e0" stroke-width="0.3" rx="0.8"/>
<rect x="506.7" y="89.2" width="6.9" height="1.7" fill="#2463ad"/>
<text x="516.4" y="91.3" font-size="3.75" text-anchor="start" class="ss" fill="#2a2a2a">DynaVINS.zip</text>
<rect x="506.7" y="94.5" width="6.9" height="1.7" fill="#16a454"/>
<text x="516.4" y="96.6" font-size="3.75" text-anchor="start" class="ss" fill="#2a2a2a">DVINS.zip</text>
<rect x="506.7" y="99.7" width="6.9" height="1.7" fill="#e2414c"/>
<text x="516.4" y="101.8" font-size="3.75" text-anchor="start" class="ss" fill="#2a2a2a">VINS.zip</text>
<rect x="27.7" y="149.6" width="69.1" height="103.6" fill="#eaeaf2"/>
<path d="M33.7,149.6V253.2M44.6,149.6V253.2M55.6,149.6V253.2M66.6,149.6V253.2M77.5,149.6V253.2M88.4,149.6V253.2M27.7,159.6H96.8M27.7,173.4H96.8M27.7,187.2H96.8M27.7,201.0H96.8M27.7,214.8H96.8M27.7,228.6H96.8M27.7,242.4H96.8" stroke="#fff" stroke-width="0.3" fill="none"/>
<text x="26.0" y="160.8" font-size="3.5" text-anchor="end" class="se lt" fill="#444">0</text>
<text x="26.0" y="174.6" font-size="3.5" text-anchor="end" class="se lt" fill="#444">−250</text>
<text x="26.0" y="188.4" font-size="3.5" text-anchor="end" class="se lt" fill="#444">−500</text>
<text x="26.0" y="202.2" font-size="3.5" text-anchor="end" class="se lt" fill="#444">−750</text>
<text x="26.0" y="216.0" font-size="3.5" text-anchor="end" class="se lt" fill="#444">−1000</text>
<text x="26.0" y="229.8" font-size="3.5" text-anchor="end" class="se lt" fill="#444">−1250</text>
<text x="26.0" y="243.6" font-size="3.5" text-anchor="end" class="se lt" fill="#444">−1500</text>
<text x="33.7" y="257.8" font-size="3.5" text-anchor="middle" class="se lt" fill="#444">0</text>
<text x="44.6" y="257.8" font-size="3.5" text-anchor="middle" class="se lt" fill="#444">200</text>
<text x="55.6" y="257.8" font-size="3.5" text-anchor="middle" class="se lt" fill="#444">400</text>
<text x="66.6" y="257.8" font-size="3.5" text-anchor="middle" class="se lt" fill="#444">600</text>
<text x="77.5" y="257.8" font-size="3.5" text-anchor="middle" class="se lt" fill="#444">800</text>
<text x="88.4" y="257.8" font-size="3.5" text-anchor="middle" class="se lt" fill="#444">1000</text>
<text x="62.0" y="261.6" font-size="3.5" text-anchor="middle" class="sei lt" fill="#444">x (m)</text>
<text transform="translate(14.0,201.0) rotate(-90)" font-size="3.5" text-anchor="middle" class="sei lt" fill="#444">y (m)</text>
<path d="M31.0,157.4 L33.0,158.6 L35.0,160.0 L38.0,157.0 L41.4,154.2 L42.6,156.5 L54.8,199.4 L58.6,208.5 L62.0,212.8 L93.8,248.2" stroke="#7fa8d8" stroke-width="0.75" fill="none" stroke-linejoin="round" stroke-linecap="round" opacity="1"/>
<path d="M31.0,157.4 L33.0,158.6 L35.0,160.0 L38.0,157.0 L41.4,154.2 L42.6,156.5 L54.8,199.4 L58.6,208.5 L62.0,212.8 L93.8,248.2" stroke="#62c2a8" stroke-width="0.5" fill="none" stroke-linejoin="round" stroke-linecap="round" opacity="1"/>
<path d="M31.0,157.6 L33.0,158.2 L35.0,159.0 L38.0,157.6 L41.0,155.6" stroke="#b5b5c5" stroke-width="0.4" fill="none" stroke-linejoin="round" stroke-linecap="round" opacity="1"/>
<rect x="29.5" y="236.8" width="55.5" height="15.9" fill="#eaeaf2" fill-opacity="0.8" stroke="#d8d8e0" stroke-width="0.3" rx="0.8"/>
<path d="M30.8,240.7H36.3" stroke="#c0c0d0" stroke-width="0.65"/>
<text x="38.6" y="241.9" font-size="3.55" text-anchor="start" class="se lt" fill="#444">14_SLAM_car_dynamic_1_cut</text>
<path d="M30.8,245.1H36.3" stroke="#9cb4e0" stroke-width="0.65"/>
<text x="38.6" y="246.3" font-size="3.55" text-anchor="start" class="se lt" fill="#444">VINS</text>
<path d="M30.8,249.6H36.3" stroke="#80ceb8" stroke-width="0.65"/>
<text x="38.6" y="250.8" font-size="3.55" text-anchor="start" class="se lt" fill="#444">DVINS</text>
<rect x="143.9" y="146.8" width="128.8" height="115.0" fill="#eaeaf2"/>
<path d="M153.7,146.8V261.8M179.0,146.8V261.8M204.2,146.8V261.8M229.5,146.8V261.8M254.8,146.8V261.8M143.9,153.2H272.7M143.9,170.5H272.7M143.9,187.9H272.7M143.9,205.2H272.7M143.9,222.5H272.7M143.9,239.8H272.7M143.9,257.2H272.7" stroke="#fff" stroke-width="0.38" fill="none"/>
<text x="141.6" y="154.6" font-size="4.1" text-anchor="end" class="se" fill="#3a3a3a">120</text>
<text x="141.6" y="171.9" font-size="4.1" text-anchor="end" class="se" fill="#3a3a3a">100</text>
<text x="141.6" y="189.3" font-size="4.1" text-anchor="end" class="se" fill="#3a3a3a">80</text>
<text x="141.6" y="206.6" font-size="4.1" text-anchor="end" class="se" fill="#3a3a3a">60</text>
<text x="141.6" y="223.9" font-size="4.1" text-anchor="end" class="se" fill="#3a3a3a">40</text>
<text x="141.6" y="241.2" font-size="4.1" text-anchor="end" class="se" fill="#3a3a3a">20</text>
<text x="141.6" y="258.6" font-size="4.1" text-anchor="end" class="se" fill="#3a3a3a">0</text>
<text x="153.7" y="267.0" font-size="4.1" text-anchor="middle" class="se" fill="#3a3a3a">300</text>
<text x="179.0" y="267.0" font-size="4.1" text-anchor="middle" class="se" fill="#3a3a3a">400</text>
<text x="204.2" y="267.0" font-size="4.1" text-anchor="middle" class="se" fill="#3a3a3a">500</text>
<text x="229.5" y="267.0" font-size="4.1" text-anchor="middle" class="se" fill="#3a3a3a">600</text>
<text x="254.8" y="267.0" font-size="4.1" text-anchor="middle" class="se" fill="#3a3a3a">700</text>
<text x="208.0" y="271.6" font-size="4.1" text-anchor="middle" class="sei" fill="#3a3a3a">t (s)</text>
<text x="273.0" y="271.6" font-size="4.1" text-anchor="end" class="se" fill="#3a3a3a">+1.676683 × 10⁹</text>
<text transform="translate(133.0,205.0) rotate(-90)" font-size="4.1" text-anchor="middle" class="se" fill="#3a3a3a">APE (m)</text>
<text x="208.6" y="141.3" font-size="4.7" text-anchor="middle" class="se" fill="#333">APE w.r.t. translation part (m)</text>
<text x="208.6" y="145.2" font-size="4.7" text-anchor="middle" class="se" fill="#333">(with Sim(3) Umeyama alignment)</text>
<path d="M149.4,221.8C149.8,222.7 150.7,225.1 151.5,227.2C152.4,229.4 153.1,233.8 154.6,234.8C156.1,235.8 158.6,233.7 160.6,233.3C162.6,232.9 164.8,232.6 166.6,232.4C168.3,232.1 170.1,231.2 171.1,231.8C172.1,232.3 172.1,234.2 172.6,235.7C173.1,237.2 173.6,238.9 174.1,240.8C174.7,242.6 175.3,245.1 175.9,246.8C176.5,248.5 176.8,249.7 177.7,250.7C178.7,251.7 180.5,252.3 181.6,252.8C182.8,253.3 183.8,253.6 184.6,253.7C185.5,253.9 186.1,254.3 186.7,253.7C187.4,253.1 187.9,251.4 188.5,250.1C189.2,248.8 189.8,246.6 190.7,245.9C191.5,245.2 192.7,245.5 193.7,245.9C194.7,246.3 195.9,248.7 196.7,248.3C197.4,248.0 197.7,245.5 198.2,243.8C198.7,242.0 199.1,239.8 199.7,237.8C200.3,235.8 201.0,233.4 201.8,231.8C202.5,230.1 203.2,228.7 204.2,227.8C205.2,227.0 206.6,226.0 207.8,226.6C209.1,227.3 210.3,229.4 211.7,231.8C213.1,234.1 215.0,239.3 216.2,240.8C217.5,242.3 218.3,241.5 219.2,240.8C220.1,240.0 220.9,237.8 221.6,236.3C222.4,234.8 222.6,233.1 223.7,231.8C224.9,230.4 226.9,228.4 228.3,228.1C229.6,227.9 230.6,228.1 231.9,230.3C233.1,232.4 234.6,237.3 235.8,240.8C236.9,244.3 237.9,248.8 238.8,251.3C239.6,253.8 240.0,255.7 240.9,255.8C241.7,255.9 243.0,253.3 243.9,251.9C244.8,250.6 245.5,247.9 246.3,247.7C247.1,247.5 248.0,249.4 248.7,250.7C249.5,252.1 250.3,255.8 250.8,255.8C251.4,255.8 251.7,252.7 252.0,250.7C252.4,248.7 252.5,248.0 252.9,243.8C253.3,239.6 253.9,231.5 254.4,225.7C254.9,220.0 255.4,214.2 255.9,209.2C256.4,204.2 256.9,199.7 257.4,195.7C257.9,191.6 258.4,188.3 258.9,185.1C259.5,182.0 260.3,178.6 260.8,176.7C261.2,174.8 261.4,174.6 261.7,174.0C261.9,173.4 262.1,173.0 262.3,173.1C262.5,173.1 262.6,173.5 262.9,174.3C263.1,175.1 263.4,176.4 263.8,177.9C264.1,179.5 264.4,181.3 265.0,183.6C265.6,185.9 267.0,190.4 267.4,191.7" stroke="#8fa8dc" stroke-width="0.7" fill="none" stroke-linejoin="round" stroke-linecap="round" opacity="1"/>
<path d="M149.4,220.6C149.8,221.5 150.8,224.1 151.5,225.7C152.2,227.3 152.9,229.5 153.7,230.3C154.4,231.0 154.9,230.5 156.1,230.3C157.2,230.1 158.8,229.5 160.6,229.0C162.3,228.6 164.8,228.1 166.6,227.8C168.3,227.5 170.1,226.9 171.1,227.2C172.1,227.5 172.1,228.4 172.6,229.7C173.1,230.9 173.5,232.7 174.1,234.8C174.8,236.9 175.8,240.1 176.5,242.3C177.3,244.4 177.8,246.4 178.6,247.7C179.5,249.0 180.6,249.2 181.6,249.8C182.6,250.4 183.8,250.7 184.6,251.3C185.5,252.0 186.1,253.9 186.7,253.7C187.4,253.5 187.9,251.4 188.5,250.1C189.2,248.8 189.8,246.9 190.7,245.9C191.5,244.8 192.7,243.9 193.7,243.8C194.7,243.7 195.9,245.5 196.7,245.3C197.4,245.0 197.7,243.8 198.2,242.3C198.7,240.8 199.1,239.0 199.7,236.3C200.3,233.5 200.9,228.8 201.8,225.7C202.6,222.6 203.6,219.5 204.8,217.6C205.9,215.8 207.4,214.4 208.7,214.6C210.0,214.8 211.3,217.0 212.6,218.8C214.0,220.7 215.5,224.8 216.8,225.7C218.2,226.6 219.6,225.2 220.7,224.2C221.9,223.3 222.7,221.1 223.7,220.0C224.8,218.9 225.6,217.5 226.8,217.6C227.9,217.7 229.4,218.5 230.7,220.6C231.9,222.7 233.1,226.6 234.3,230.3C235.5,233.9 236.8,238.4 237.9,242.3C239.0,246.2 240.0,252.5 240.9,253.7C241.8,255.0 242.4,251.1 243.3,249.8C244.2,248.5 245.4,245.9 246.3,245.9C247.2,245.9 248.1,248.0 248.7,249.8C249.4,251.6 249.8,256.5 250.2,256.7C250.7,257.0 251.1,253.7 251.4,251.3C251.8,248.9 251.9,247.3 252.3,242.3C252.7,237.3 253.3,228.2 253.8,221.2C254.3,214.2 254.8,206.7 255.3,200.2C255.9,193.7 256.5,187.6 257.1,182.1C257.7,176.6 258.3,171.3 258.9,167.1C259.5,162.8 260.3,158.9 260.8,156.5C261.2,154.2 261.4,154.0 261.7,153.2C261.9,152.5 262.1,152.0 262.3,152.0C262.5,152.0 262.7,152.4 262.9,153.2C263.1,154.0 263.3,155.6 263.5,156.8C263.7,158.1 263.9,159.7 264.1,160.5C264.3,161.2 264.1,161.2 264.7,161.4C265.2,161.6 266.9,161.6 267.4,161.7" stroke="#6fcfae" stroke-width="0.9" fill="none" stroke-linejoin="round" stroke-linecap="round" opacity="1"/>
<rect x="144.8" y="148.3" width="31.7" height="10.9" fill="#eaeaf2" fill-opacity="0.8" stroke="#d8d8e0" stroke-width="0.3" rx="0.8"/>
<path d="M146.5,151.4H153.5" stroke="#8fa8dc" stroke-width="0.65"/>
<text x="156.3" y="152.8" font-size="4.0" text-anchor="start" class="se lt" fill="#444">D-VINS.zip</text>
<path d="M146.5,156.6H153.5" stroke="#6fcfae" stroke-width="0.65"/>
<text x="156.3" y="158.0" font-size="4.0" text-anchor="start" class="se lt" fill="#444">VINS.zip</text>
<rect x="300.2" y="147.7" width="102.5" height="105.3" fill="#eaeaf2"/>
<path d="M300.2,159.5H402.7M300.2,173.4H402.7M300.2,187.3H402.7M300.2,201.3H402.7M300.2,215.2H402.7M300.2,229.1H402.7M300.2,243.0H402.7" stroke="#fff" stroke-width="0.38" fill="none"/>
<text x="297.3" y="160.6" font-size="3.3" text-anchor="end" class="ss" fill="#2a2a2a">120</text>
<text x="297.3" y="174.5" font-size="3.3" text-anchor="end" class="ss" fill="#2a2a2a">100</text>
<text x="297.3" y="188.4" font-size="3.3" text-anchor="end" class="ss" fill="#2a2a2a">80</text>
<text x="297.3" y="202.4" font-size="3.3" text-anchor="end" class="ss" fill="#2a2a2a">60</text>
<text x="297.3" y="216.3" font-size="3.3" text-anchor="end" class="ss" fill="#2a2a2a">40</text>
<text x="297.3" y="230.2" font-size="3.3" text-anchor="end" class="ss" fill="#2a2a2a">20</text>
<text x="297.3" y="244.1" font-size="3.3" text-anchor="end" class="ss" fill="#2a2a2a">0</text>
<text transform="translate(287.3,200.0) rotate(-90)" font-size="3.3" text-anchor="middle" class="ss" fill="#2a2a2a">APE (m)</text>
<path d="M325.8,170.7C325.9,171.1 326.1,172.1 326.2,173.0C326.3,173.9 326.5,174.9 326.6,176.0C326.7,177.1 326.8,178.1 326.8,179.3C326.8,180.5 326.6,181.6 326.5,183.0C326.4,184.4 326.3,185.8 326.2,188.0C326.2,190.2 326.2,193.3 326.2,196.0C326.2,198.7 326.2,201.8 326.3,204.0C326.4,206.2 326.4,207.6 326.6,209.0C326.8,210.4 326.9,211.4 327.5,212.4C328.1,213.4 329.0,214.2 330.2,215.0C331.4,215.8 333.0,216.7 334.7,217.5C336.4,218.3 338.5,219.1 340.2,219.8C341.9,220.5 343.7,221.2 344.7,221.8C345.7,222.4 346.2,222.9 346.3,223.5C346.4,224.1 345.9,224.7 345.3,225.3C344.7,225.9 343.4,226.6 342.7,227.2C342.0,227.8 341.3,228.5 340.9,229.0C340.5,229.5 340.4,229.8 340.4,230.3C340.4,230.8 340.6,231.3 341.1,231.8C341.6,232.3 342.8,233.0 343.5,233.5C344.2,234.0 345.1,234.6 345.5,235.0C345.9,235.4 346.1,235.7 346.1,236.2C346.1,236.7 346.0,237.2 345.5,237.8C345.0,238.4 344.2,239.1 343.2,239.8C342.1,240.5 340.5,241.3 339.2,241.9C337.9,242.5 336.4,242.8 335.2,243.2C333.9,243.6 332.8,243.9 331.7,244.3C330.6,244.7 329.5,245.2 328.5,245.6C327.5,246.0 326.2,246.6 325.8,246.8L325.6,246.8C325.1,246.6 323.9,246.0 322.9,245.6C321.9,245.2 320.8,244.7 319.7,244.3C318.6,243.9 317.4,243.6 316.2,243.2C314.9,242.8 313.5,242.5 312.2,241.9C310.9,241.3 309.2,240.5 308.2,239.8C307.1,239.1 306.4,238.4 305.9,237.8C305.4,237.2 305.3,236.7 305.3,236.2C305.3,235.7 305.5,235.4 305.9,235.0C306.3,234.6 307.2,234.0 307.9,233.5C308.6,233.0 309.8,232.3 310.3,231.8C310.8,231.3 311.0,230.8 311.0,230.3C311.0,229.8 310.9,229.5 310.5,229.0C310.1,228.5 309.4,227.8 308.7,227.2C308.0,226.6 306.7,225.9 306.1,225.3C305.5,224.7 305.0,224.1 305.1,223.5C305.2,222.9 305.7,222.4 306.7,221.8C307.7,221.2 309.5,220.5 311.2,219.8C312.9,219.1 315.0,218.3 316.7,217.5C318.4,216.7 320.0,215.8 321.2,215.0C322.4,214.2 323.3,213.4 323.9,212.4C324.5,211.4 324.6,210.4 324.8,209.0C325.0,207.6 325.0,206.2 325.1,204.0C325.2,201.8 325.2,198.7 325.2,196.0C325.2,193.3 325.2,190.2 325.1,188.0C325.1,185.8 325.0,184.4 324.9,183.0C324.8,181.6 324.6,180.5 324.6,179.3C324.6,178.1 324.7,177.1 324.8,176.0C324.9,174.9 325.1,173.9 325.2,173.0C325.3,172.1 325.5,171.1 325.6,170.7Z" fill="#3a6fb0" stroke="#3a3a3a" stroke-width="0.5" stroke-linejoin="round"/>
<path d="M325.7,172V246" stroke="#444" stroke-width="0.35"/><path d="M325.7,218.6V235.7" stroke="#444" stroke-width="0.9"/><circle cx="325.7" cy="228.5" r="0.4" fill="#fff"/>
<path d="M377.2,152.4C377.3,152.8 377.5,154.1 377.6,155.0C377.7,155.9 377.9,157.2 378.0,158.0C378.1,158.8 378.1,159.2 378.1,160.0C378.1,160.8 378.0,161.7 377.9,163.0C377.8,164.3 377.7,165.5 377.7,168.0C377.6,170.5 377.6,174.3 377.6,178.0C377.6,181.7 377.6,186.7 377.7,190.0C377.7,193.3 377.7,195.9 377.9,198.0C378.1,200.1 378.3,201.4 378.6,202.6C378.9,203.8 379.1,204.2 379.5,205.0C379.9,205.8 379.9,206.7 380.8,207.5C381.7,208.3 383.2,209.2 384.6,210.0C386.0,210.8 388.1,211.6 389.4,212.4C390.7,213.2 391.8,214.2 392.4,215.0C393.1,215.8 393.2,216.6 393.3,217.3C393.4,218.1 393.2,218.7 392.7,219.5C392.2,220.3 391.0,221.2 390.1,222.0C389.2,222.8 387.9,223.7 387.1,224.5C386.3,225.3 385.5,226.3 385.4,227.1C385.3,227.9 385.7,228.7 386.3,229.5C386.9,230.3 388.2,231.2 389.1,232.0C390.0,232.8 391.0,233.4 391.6,234.0C392.2,234.6 392.4,235.1 392.5,235.7C392.6,236.3 392.5,236.8 392.1,237.5C391.7,238.2 390.9,239.1 389.9,240.0C388.9,240.9 387.2,242.3 386.1,243.1C385.0,243.9 384.1,244.3 383.1,244.8C382.1,245.3 380.9,245.6 380.1,246.0C379.3,246.4 378.9,246.9 378.4,247.3C377.9,247.7 377.4,248.3 377.2,248.5L377.0,248.5C376.8,248.3 376.3,247.7 375.8,247.3C375.3,246.9 374.9,246.4 374.1,246.0C373.3,245.6 372.1,245.3 371.1,244.8C370.1,244.3 369.2,243.9 368.1,243.1C367.0,242.3 365.3,240.9 364.3,240.0C363.3,239.1 362.5,238.2 362.1,237.5C361.7,236.8 361.6,236.3 361.7,235.7C361.8,235.1 362.0,234.6 362.6,234.0C363.2,233.4 364.2,232.8 365.1,232.0C366.0,231.2 367.3,230.3 367.9,229.5C368.5,228.7 368.9,227.9 368.8,227.1C368.7,226.3 367.9,225.3 367.1,224.5C366.3,223.7 365.0,222.8 364.1,222.0C363.2,221.2 362.0,220.3 361.5,219.5C361.0,218.7 360.9,218.1 360.9,217.3C361.0,216.6 361.2,215.8 361.8,215.0C362.4,214.2 363.5,213.2 364.8,212.4C366.1,211.6 368.2,210.8 369.6,210.0C371.0,209.2 372.6,208.3 373.4,207.5C374.3,206.7 374.3,205.8 374.7,205.0C375.1,204.2 375.3,203.8 375.6,202.6C375.9,201.4 376.1,200.1 376.3,198.0C376.5,195.9 376.5,193.3 376.6,190.0C376.6,186.7 376.6,181.7 376.6,178.0C376.6,174.3 376.6,170.5 376.6,168.0C376.5,165.5 376.4,164.3 376.3,163.0C376.2,161.7 376.1,160.8 376.1,160.0C376.1,159.2 376.1,158.8 376.2,158.0C376.3,157.2 376.5,155.9 376.6,155.0C376.7,154.1 376.9,152.8 377.0,152.4Z" fill="#1fa55a" stroke="#3a3a3a" stroke-width="0.5" stroke-linejoin="round"/>
<path d="M377.1,154V247.5" stroke="#444" stroke-width="0.35"/><path d="M377.1,215V234.5" stroke="#444" stroke-width="0.9"/><circle cx="377.1" cy="224.5" r="0.4" fill="#fff"/>
<text x="325.7" y="258.2" font-size="3.3" text-anchor="middle" class="ss" fill="#2a2a2a">D-VINS.zip</text>
<text x="377.1" y="258.2" font-size="3.3" text-anchor="middle" class="ss" fill="#2a2a2a">VINS.zip</text>
<text x="351.5" y="263.2" font-size="3.3" text-anchor="middle" class="ss" fill="#2a2a2a">estimate</text>
<rect x="430.5" y="148" width="116.3" height="103.7" fill="#eaeaf2"/>
<path d="M430.4,148V251.7M448.8,148V251.7M467.2,148V251.7M485.6,148V251.7M504.0,148V251.7M522.4,148V251.7M540.8,148V251.7" stroke="#fff" stroke-width="0.38" fill="none"/>
<rect x="430.4" y="152.7" width="111.4" height="4.0" fill="#16a454"/>
<rect x="430.4" y="157.1" width="88.2" height="3.8" fill="#2463ad"/>
<rect x="430.4" y="170.0" width="0.0" height="4.0" fill="#16a454"/>
<rect x="430.4" y="174.4" width="1.2" height="3.8" fill="#2463ad"/>
<rect x="430.4" y="187.3" width="19.9" height="4.0" fill="#16a454"/>
<rect x="430.4" y="191.7" width="14.7" height="3.8" fill="#2463ad"/>
<rect x="430.4" y="204.5" width="27.7" height="4.0" fill="#16a454"/>
<rect x="430.4" y="208.9" width="18.4" height="3.8" fill="#2463ad"/>
<rect x="430.4" y="221.8" width="27.4" height="4.0" fill="#16a454"/>
<rect x="430.4" y="226.2" width="19.9" height="3.8" fill="#2463ad"/>
<rect x="430.4" y="239.1" width="34.0" height="4.0" fill="#16a454"/>
<rect x="430.4" y="243.5" width="25.0" height="3.8" fill="#2463ad"/>
<text x="427.6" y="158.0" font-size="3.6" text-anchor="end" class="ss" fill="#2a2a2a">max</text>
<text x="427.6" y="175.3" font-size="3.6" text-anchor="end" class="ss" fill="#2a2a2a">min</text>
<text x="427.6" y="192.6" font-size="3.6" text-anchor="end" class="ss" fill="#2a2a2a">std</text>
<text x="427.6" y="209.8" font-size="3.6" text-anchor="end" class="ss" fill="#2a2a2a">median</text>
<text x="427.6" y="227.1" font-size="3.6" text-anchor="end" class="ss" fill="#2a2a2a">mean</text>
<text x="427.6" y="244.4" font-size="3.6" text-anchor="end" class="ss" fill="#2a2a2a">rmse</text>
<text x="430.4" y="258.0" font-size="3.6" text-anchor="middle" class="ss" fill="#2a2a2a">0</text>
<text x="448.8" y="258.0" font-size="3.6" text-anchor="middle" class="ss" fill="#2a2a2a">20</text>
<text x="467.2" y="258.0" font-size="3.6" text-anchor="middle" class="ss" fill="#2a2a2a">40</text>
<text x="485.6" y="258.0" font-size="3.6" text-anchor="middle" class="ss" fill="#2a2a2a">60</text>
<text x="504.0" y="258.0" font-size="3.6" text-anchor="middle" class="ss" fill="#2a2a2a">80</text>
<text x="522.4" y="258.0" font-size="3.6" text-anchor="middle" class="ss" fill="#2a2a2a">100</text>
<text x="540.8" y="258.0" font-size="3.6" text-anchor="middle" class="ss" fill="#2a2a2a">120</text>
<text x="488.7" y="263.8" font-size="3.6" text-anchor="middle" class="ss" fill="#2a2a2a">APE (m)</text>
<rect x="403.2" y="200" width="10.6" height="16" fill="#fff"/>
<rect x="511.8" y="237.7" width="32.7" height="11.8" fill="#eaeaf2" fill-opacity="0.8" stroke="#d8d8e0" stroke-width="0.3" rx="0.8"/>
<rect x="513.8" y="240.2" width="7.3" height="1.8" fill="#2463ad"/>
<text x="524.0" y="242.4" font-size="3.6" text-anchor="start" class="ss" fill="#2a2a2a">D-VINS.zip</text>
<rect x="513.8" y="245.6" width="7.3" height="1.8" fill="#16a454"/>
<text x="524.0" y="247.8" font-size="3.6" text-anchor="start" class="ss" fill="#2a2a2a">VINS.zip</text>
<rect x="32" y="304.8" width="60.2" height="104.2" fill="#eaeaf2"/>
<path d="M44.3,304.8V409M58.1,304.8V409M71.9,304.8V409M85.7,304.8V409M32,310.6H92.2M32,324.2H92.2M32,337.7H92.2M32,351.2H92.2M32,364.8H92.2M32,378.4H92.2M32,391.9H92.2M32,405.5H92.2" stroke="#fff" stroke-width="0.3" fill="none"/>
<text x="30.3" y="311.8" font-size="3.5" text-anchor="end" class="se lt" fill="#444">0</text>
<text x="30.3" y="325.4" font-size="3.5" text-anchor="end" class="se lt" fill="#444">−500</text>
<text x="30.3" y="338.9" font-size="3.5" text-anchor="end" class="se lt" fill="#444">−1000</text>
<text x="30.3" y="352.4" font-size="3.5" text-anchor="end" class="se lt" fill="#444">−1500</text>
<text x="30.3" y="366.0" font-size="3.5" text-anchor="end" class="se lt" fill="#444">−2000</text>
<text x="30.3" y="379.6" font-size="3.5" text-anchor="end" class="se lt" fill="#444">−2500</text>
<text x="30.3" y="393.1" font-size="3.5" text-anchor="end" class="se lt" fill="#444">−3000</text>
<text x="30.3" y="406.7" font-size="3.5" text-anchor="end" class="se lt" fill="#444">−3500</text>
<text x="44.3" y="414.7" font-size="3.5" text-anchor="middle" class="se lt" fill="#444">−500</text>
<text x="58.1" y="414.7" font-size="3.5" text-anchor="middle" class="se lt" fill="#444">0</text>
<text x="71.9" y="414.7" font-size="3.5" text-anchor="middle" class="se lt" fill="#444">500</text>
<text x="85.7" y="414.7" font-size="3.5" text-anchor="middle" class="se lt" fill="#444">1000</text>
<text x="62.0" y="418.4" font-size="3.5" text-anchor="middle" class="sei lt" fill="#444">x (m)</text>
<text transform="translate(15.0,357.0) rotate(-90)" font-size="3.5" text-anchor="middle" class="sei lt" fill="#444">y (m)</text>
<path d="M56.4,311.3 L60.0,310.4 L66.5,310.2 L68.2,311.0 L69.0,313.0 L77.6,364.4 L81.0,378.0 L89.3,396.3 L88.0,398.5 L70.2,404.6 L68.5,403.5 L64.8,394.8 L34.7,381.2" stroke="#a9a9bd" stroke-width="0.45" fill="none" stroke-linejoin="round" stroke-linecap="round" opacity="1"/>
<path d="M60.6,314.8 L68.0,314.8 L69.0,316.0 L74.6,364.4 L80.9,400.2 L80.0,401.0 L71.0,401.8 L70.2,401.0 L67.9,390.1 L56.2,381.8" stroke="#94acdf" stroke-width="0.5" fill="none" stroke-linejoin="round" stroke-linecap="round" opacity="1"/>
<path d="M56.2,311.1 L60.0,310.2 L66.3,310.1 L68.0,310.8 L68.9,312.8 L78.0,364.4 L85.8,397.9 L85.0,399.5 L71.8,403.7 L70.6,402.6 L68.7,391.7 L45.0,379.2" stroke="#70c8b0" stroke-width="0.5" fill="none" stroke-linejoin="round" stroke-linecap="round" opacity="1"/>
<rect x="33.4" y="349.2" width="35.8" height="15.6" fill="#eaeaf2" fill-opacity="0.8" stroke="#d8d8e0" stroke-width="0.3" rx="0.8"/>
<path d="M34.9,352.5H40.5" stroke="#c0c0d0" stroke-width="0.65"/>
<text x="43.4" y="353.7" font-size="3.55" text-anchor="start" class="se lt" fill="#444">16_SLAM_car_3</text>
<path d="M34.9,356.9H40.5" stroke="#a4b8e4" stroke-width="0.65"/>
<text x="43.4" y="358.1" font-size="3.55" text-anchor="start" class="se lt" fill="#444">VINS</text>
<path d="M34.9,361.4H40.5" stroke="#84d0b8" stroke-width="0.65"/>
<text x="43.4" y="362.6" font-size="3.55" text-anchor="start" class="se lt" fill="#444">DVINS</text>
<rect x="144" y="302.7" width="129.0" height="115.1" fill="#eaeaf2"/>
<path d="M148.4,302.7V417.8M165.7,302.7V417.8M183.0,302.7V417.8M200.3,302.7V417.8M217.6,302.7V417.8M234.8,302.7V417.8M252.1,302.7V417.8M269.4,302.7V417.8M144,312.5H273M144,329.4H273M144,346.4H273M144,363.3H273M144,380.2H273M144,397.1H273M144,414.1H273" stroke="#fff" stroke-width="0.38" fill="none"/>
<text x="142.0" y="313.9" font-size="4.1" text-anchor="end" class="se" fill="#3a3a3a">600</text>
<text x="142.0" y="330.8" font-size="4.1" text-anchor="end" class="se" fill="#3a3a3a">500</text>
<text x="142.0" y="347.8" font-size="4.1" text-anchor="end" class="se" fill="#3a3a3a">400</text>
<text x="142.0" y="364.7" font-size="4.1" text-anchor="end" class="se" fill="#3a3a3a">300</text>
<text x="142.0" y="381.6" font-size="4.1" text-anchor="end" class="se" fill="#3a3a3a">200</text>
<text x="142.0" y="398.5" font-size="4.1" text-anchor="end" class="se" fill="#3a3a3a">100</text>
<text x="142.0" y="415.5" font-size="4.1" text-anchor="end" class="se" fill="#3a3a3a">0</text>
<text x="148.4" y="423.8" font-size="4.1" text-anchor="middle" class="se" fill="#3a3a3a">0</text>
<text x="165.7" y="423.8" font-size="4.1" text-anchor="middle" class="se" fill="#3a3a3a">100</text>
<text x="183.0" y="423.8" font-size="4.1" text-anchor="middle" class="se" fill="#3a3a3a">200</text>
<text x="200.3" y="423.8" font-size="4.1" text-anchor="middle" class="se" fill="#3a3a3a">300</text>
<text x="217.6" y="423.8" font-size="4.1" text-anchor="middle" class="se" fill="#3a3a3a">400</text>
<text x="234.8" y="423.8" font-size="4.1" text-anchor="middle" class="se" fill="#3a3a3a">500</text>
<text x="252.1" y="423.8" font-size="4.1" text-anchor="middle" class="se" fill="#3a3a3a">600</text>
<text x="269.4" y="423.8" font-size="4.1" text-anchor="middle" class="se" fill="#3a3a3a">700</text>
<text x="208.0" y="428.4" font-size="4.1" text-anchor="middle" class="sei" fill="#3a3a3a">t (s)</text>
<text x="273.5" y="428.4" font-size="4.1" text-anchor="end" class="se" fill="#3a3a3a">+1.676702 × 10⁹</text>
<text transform="translate(133.0,360.0) rotate(-90)" font-size="4.1" text-anchor="middle" class="se" fill="#3a3a3a">APE (m)</text>
<text x="210.8" y="296.8" font-size="4.7" text-anchor="middle" class="se" fill="#333">APE w.r.t. translation part (m)</text>
<text x="210.8" y="300.8" font-size="4.7" text-anchor="middle" class="se" fill="#333">(with Sim(3) Umeyama alignment)</text>
<path d="M148.4,403.8C149.0,404.2 151.0,405.2 152.1,406.0C153.3,406.8 154.0,407.8 155.3,408.5C156.6,409.2 158.6,409.5 159.9,410.0C161.2,410.6 162.2,411.8 163.1,411.6C163.9,411.5 164.4,409.9 164.9,409.1C165.5,408.3 165.6,407.6 166.2,406.9C166.8,406.3 167.7,405.4 168.4,405.4C169.0,405.3 169.5,406.1 169.9,406.6C170.3,407.1 170.4,407.7 170.9,408.5C171.3,409.3 172.0,411.4 172.4,411.6C172.9,411.8 173.2,410.8 173.7,409.7C174.1,408.7 174.4,407.9 174.9,405.4C175.4,402.8 176.0,398.1 176.5,394.5C177.0,390.8 177.5,386.9 178.0,383.5C178.6,380.2 179.1,376.8 179.6,374.2C180.1,371.6 180.5,369.8 181.1,368.0C181.8,366.1 182.6,363.5 183.3,363.3C184.1,363.0 184.9,364.3 185.5,366.4C186.1,368.5 186.3,372.4 186.8,375.7C187.2,379.1 187.6,383.0 188.0,386.7C188.4,390.3 188.8,394.5 189.3,397.6C189.7,400.7 190.1,403.3 190.5,405.4C190.9,407.5 191.4,409.9 191.8,410.0C192.1,410.2 192.4,407.8 192.7,406.0C193.0,404.2 193.3,402.3 193.6,399.1C194.0,396.0 194.5,390.9 194.9,387.3C195.2,383.6 195.4,380.5 195.8,377.3C196.2,374.1 196.8,370.3 197.4,368.0C197.9,365.6 198.3,364.3 198.9,363.3C199.5,362.2 200.3,361.2 201.1,361.7C201.9,362.2 202.9,364.2 203.6,366.4C204.3,368.6 204.8,372.0 205.5,374.8C206.1,377.7 206.8,380.8 207.3,383.5C207.9,386.2 208.4,389.0 208.9,391.0C209.4,393.1 209.9,394.8 210.5,396.0C211.0,397.3 211.5,398.0 212.0,398.5C212.5,399.0 213.1,399.3 213.6,399.1C214.1,398.9 214.6,398.0 215.1,397.3C215.7,396.5 216.1,395.2 216.7,394.5C217.3,393.7 217.9,393.3 218.6,392.9C219.2,392.5 220.1,392.2 220.7,392.3C221.4,392.4 221.8,392.9 222.3,393.5C222.8,394.1 223.3,395.0 223.9,396.0C224.4,397.1 224.9,398.5 225.4,399.8C225.9,401.1 226.5,402.6 227.0,403.8C227.5,405.1 228.1,406.5 228.5,407.2C229.0,408.0 229.2,408.7 229.5,408.5C229.8,408.3 230.1,407.0 230.4,406.0C230.8,405.0 231.2,403.4 231.7,402.3C232.1,401.1 232.5,399.9 232.9,399.1C233.3,398.4 233.6,398.5 234.2,397.6C234.7,396.7 235.4,394.9 236.0,393.8C236.7,392.8 237.2,392.0 237.9,391.3C238.6,390.7 239.6,390.4 240.4,390.1C241.2,389.8 241.7,389.8 242.6,389.8C243.5,389.7 244.7,389.8 245.7,389.8C246.7,389.8 247.8,389.9 248.8,389.8C249.9,389.7 250.9,389.4 251.9,389.2C253.0,388.9 254.2,388.7 255.0,388.2C255.9,387.8 256.5,387.1 257.2,386.4C258.0,385.6 258.9,384.5 259.7,383.5C260.6,382.6 261.4,381.5 262.2,380.4C263.0,379.4 263.8,378.2 264.4,377.3C265.0,376.4 265.4,375.9 266.0,375.1C266.5,374.3 267.3,373.0 267.5,372.6" stroke="#8fa8dc" stroke-width="0.7" fill="none" stroke-linejoin="round" stroke-linecap="round" opacity="1"/>
<path d="M148.4,404.7C149.3,405.0 151.8,405.8 153.7,406.0C155.6,406.2 158.1,406.2 159.9,406.0C161.8,405.8 163.3,404.4 164.6,404.7C165.9,405.1 166.7,407.0 167.7,407.9C168.8,408.8 170.0,410.2 170.9,410.0C171.7,409.9 172.3,409.3 173.0,406.9C173.8,404.6 174.9,400.4 175.5,396.0C176.2,391.6 176.6,386.1 177.1,380.4C177.6,374.7 178.1,367.9 178.7,361.7C179.2,355.6 179.7,349.7 180.2,343.6C180.8,337.6 181.5,329.3 182.0,325.4C182.5,321.5 182.7,321.4 183.0,320.2C183.4,319.1 183.7,318.4 184.0,318.4C184.3,318.4 184.6,319.1 185.0,320.2C185.3,321.4 185.5,322.1 186.0,325.4C186.5,328.7 187.5,335.4 188.1,340.1C188.7,344.9 189.1,349.0 189.6,353.9C190.1,358.8 190.6,364.6 191.1,369.5C191.6,374.5 192.2,380.1 192.7,383.5C193.2,387.0 193.7,388.8 194.2,390.4C194.8,392.0 195.3,393.4 195.8,392.9C196.3,392.4 196.8,389.9 197.4,387.3C197.9,384.7 198.4,381.5 198.9,377.3C199.4,373.2 200.0,367.0 200.5,362.3C201.0,357.7 201.5,352.7 202.0,349.2C202.6,345.8 203.1,343.3 203.6,341.4C204.1,339.6 204.5,338.6 205.2,338.3C205.8,338.1 206.7,338.7 207.3,339.9C208.0,341.1 208.5,343.4 209.2,345.5C209.9,347.6 210.7,350.3 211.4,352.4C212.1,354.4 212.9,356.4 213.6,357.7C214.3,359.0 214.8,359.6 215.4,360.2C216.1,360.7 217.0,360.8 217.6,361.1C218.3,361.4 218.7,361.1 219.2,361.7C219.7,362.3 220.2,363.3 220.7,364.8C221.3,366.4 221.8,368.5 222.3,371.1C222.8,373.7 223.3,377.3 223.9,380.4C224.4,383.5 224.9,386.7 225.4,389.8C225.9,392.9 226.5,396.5 227.0,399.1C227.5,401.7 228.0,403.9 228.5,405.4C229.1,406.8 229.7,407.9 230.1,407.9C230.5,407.9 230.7,406.6 231.0,405.4C231.4,404.2 231.8,402.5 232.3,400.7C232.8,398.9 233.5,396.3 234.2,394.5C234.8,392.6 235.6,390.9 236.3,389.8C237.1,388.7 237.7,388.3 238.5,387.9C239.3,387.5 240.1,387.4 241.0,387.3C242.0,387.2 243.1,387.3 244.1,387.3C245.2,387.3 246.4,387.5 247.3,387.3C248.1,387.1 248.5,386.7 249.1,386.0C249.7,385.4 250.4,385.0 251.0,383.5C251.6,382.1 252.2,379.9 252.9,377.3C253.5,374.7 254.3,371.5 255.0,368.0C255.8,364.4 256.5,360.3 257.2,356.1C258.0,351.9 258.9,347.2 259.7,343.0C260.6,338.9 261.4,334.8 262.2,331.2C263.0,327.5 263.8,324.0 264.4,321.2C265.0,318.4 265.4,316.7 266.0,314.3C266.5,312.0 267.3,308.3 267.5,307.1" stroke="#6fcfae" stroke-width="0.9" fill="none" stroke-linejoin="round" stroke-linecap="round" opacity="1"/>
<rect x="145.3" y="304" width="41.2" height="11.9" fill="#eaeaf2" fill-opacity="0.8" stroke="#d8d8e0" stroke-width="0.3" rx="0.8"/>
<path d="M147,306.9H153.8" stroke="#8fa8dc" stroke-width="0.65"/>
<text x="156.0" y="308.4" font-size="4.4" text-anchor="start" class="se lt" fill="#444">DVINS_ape.zip</text>
<path d="M147,312.3H153.8" stroke="#6fcfae" stroke-width="0.65"/>
<text x="156.0" y="313.8" font-size="4.4" text-anchor="start" class="se lt" fill="#444">VINS_ape.zip</text>
<rect x="296.6" y="303.5" width="114.3" height="101.3" fill="#eaeaf2"/>
<path d="M296.6,307.1H410.9M296.6,319.6H410.9M296.6,332.1H410.9M296.6,344.6H410.9M296.6,357.1H410.9M296.6,369.6H410.9M296.6,382.0H410.9M296.6,394.5H410.9" stroke="#fff" stroke-width="0.38" fill="none"/>
<text x="294.0" y="308.3" font-size="3.6" text-anchor="end" class="ss" fill="#2a2a2a">700</text>
<text x="294.0" y="320.8" font-size="3.6" text-anchor="end" class="ss" fill="#2a2a2a">600</text>
<text x="294.0" y="333.3" font-size="3.6" text-anchor="end" class="ss" fill="#2a2a2a">500</text>
<text x="294.0" y="345.8" font-size="3.6" text-anchor="end" class="ss" fill="#2a2a2a">400</text>
<text x="294.0" y="358.3" font-size="3.6" text-anchor="end" class="ss" fill="#2a2a2a">300</text>
<text x="294.0" y="370.8" font-size="3.6" text-anchor="end" class="ss" fill="#2a2a2a">200</text>
<text x="294.0" y="383.2" font-size="3.6" text-anchor="end" class="ss" fill="#2a2a2a">100</text>
<text x="294.0" y="395.7" font-size="3.6" text-anchor="end" class="ss" fill="#2a2a2a">0</text>
<text transform="translate(283.3,357.0) rotate(-90)" font-size="3.6" text-anchor="middle" class="ss" fill="#2a2a2a">APE (m)</text>
<path d="M325.7,351.9C326.0,352.1 326.6,352.5 327.2,353.0C327.8,353.5 328.6,354.4 329.3,355.1C330.0,355.8 330.8,356.4 331.4,357.0C332.0,357.6 332.5,358.0 332.7,358.8C333.0,359.6 332.9,360.8 332.9,362.0C332.9,363.2 332.7,364.9 332.7,366.1C332.7,367.3 332.9,368.2 333.1,369.0C333.3,369.8 333.5,370.4 333.9,371.0C334.3,371.6 334.9,372.0 335.4,372.4C336.0,372.8 336.4,372.9 337.2,373.5C338.0,374.1 339.6,375.1 340.3,375.9C341.0,376.6 341.0,377.4 341.2,378.0C341.4,378.6 341.5,378.9 341.3,379.6C341.1,380.3 340.4,381.4 340.3,382.0C340.2,382.6 340.5,383.0 340.9,383.4C341.3,383.8 341.9,384.1 342.7,384.5C343.5,384.9 344.8,385.6 345.6,386.0C346.4,386.4 347.1,386.4 347.6,386.9C348.2,387.3 349.0,388.2 348.9,388.7C348.8,389.2 348.2,389.6 347.1,390.0C346.1,390.4 344.0,390.7 342.6,391.1C341.2,391.5 339.8,391.9 338.6,392.2C337.4,392.5 336.6,392.8 335.4,393.1C334.2,393.4 332.7,393.9 331.6,394.2C330.5,394.5 329.6,394.6 328.6,395.0C327.6,395.4 326.2,396.1 325.7,396.3L325.5,396.3C325.0,396.1 323.6,395.4 322.6,395.0C321.6,394.6 320.7,394.5 319.6,394.2C318.5,393.9 317.0,393.4 315.8,393.1C314.6,392.8 313.8,392.5 312.6,392.2C311.4,391.9 310.0,391.5 308.6,391.1C307.2,390.7 305.2,390.4 304.1,390.0C303.1,389.6 302.4,389.2 302.3,388.7C302.2,388.2 303.1,387.3 303.6,386.9C304.2,386.4 304.8,386.4 305.6,386.0C306.4,385.6 307.7,384.9 308.5,384.5C309.3,384.1 309.9,383.8 310.3,383.4C310.7,383.0 311.0,382.6 310.9,382.0C310.8,381.4 310.1,380.3 309.9,379.6C309.8,378.9 309.8,378.6 310.0,378.0C310.2,377.4 310.2,376.6 310.9,375.9C311.6,375.1 313.2,374.1 314.0,373.5C314.8,372.9 315.2,372.8 315.8,372.4C316.4,372.0 316.9,371.6 317.3,371.0C317.7,370.4 317.9,369.8 318.1,369.0C318.3,368.2 318.5,367.3 318.5,366.1C318.5,364.9 318.3,363.2 318.3,362.0C318.3,360.8 318.2,359.6 318.5,358.8C318.8,358.0 319.2,357.6 319.8,357.0C320.4,356.4 321.2,355.8 321.9,355.1C322.6,354.4 323.4,353.5 324.0,353.0C324.6,352.5 325.2,352.1 325.5,351.9Z" fill="#3a6fb0" stroke="#3a3a3a" stroke-width="0.5" stroke-linejoin="round"/>
<path d="M325.6,353V395.5" stroke="#444" stroke-width="0.35"/><path d="M325.6,372.2V389.4" stroke="#444" stroke-width="0.9"/><circle cx="325.6" cy="381" r="0.45" fill="#fff"/>
<path d="M384.0,307.8C384.1,308.3 384.4,309.9 384.7,311.0C384.9,312.1 385.2,313.5 385.5,314.7C385.8,315.9 386.1,316.8 386.4,318.0C386.7,319.2 387.0,320.7 387.3,322.0C387.6,323.3 387.9,324.8 388.2,326.0C388.5,327.2 388.7,328.2 389.0,329.4C389.3,330.6 389.6,331.8 389.8,333.0C390.0,334.2 390.3,335.5 390.3,336.7C390.3,337.9 390.1,339.0 390.0,340.0C389.9,341.0 389.8,341.9 389.8,342.9C389.8,343.9 390.0,345.0 390.1,346.0C390.2,347.0 390.3,348.0 390.5,349.0C390.7,350.0 390.9,351.0 391.1,352.0C391.3,353.0 391.5,354.1 391.5,355.1C391.5,356.1 391.4,357.0 391.3,358.0C391.2,359.0 391.0,360.0 390.8,361.2C390.6,362.4 390.2,363.8 389.9,365.0C389.6,366.2 389.3,367.4 389.2,368.6C389.1,369.8 389.1,370.8 389.1,372.0C389.1,373.2 389.1,374.7 389.4,375.9C389.7,377.1 390.2,378.0 390.7,379.0C391.2,380.0 392.0,381.1 392.5,382.0C393.0,382.9 393.5,383.7 393.9,384.5C394.3,385.3 394.6,386.1 394.9,386.9C395.1,387.7 395.5,388.7 395.4,389.4C395.3,390.1 394.8,390.7 394.3,391.3C393.8,391.9 392.9,392.5 392.2,393.1C391.5,393.7 390.6,394.4 389.9,395.0C389.2,395.6 388.6,396.1 387.9,396.7C387.2,397.3 386.3,398.1 385.7,398.8C385.1,399.5 384.3,400.5 384.0,400.9L383.8,400.9C383.5,400.5 382.7,399.5 382.1,398.8C381.4,398.1 380.6,397.3 379.9,396.7C379.2,396.1 378.6,395.6 377.9,395.0C377.2,394.4 376.3,393.7 375.6,393.1C374.9,392.5 374.0,391.9 373.5,391.3C373.0,390.7 372.5,390.1 372.4,389.4C372.3,388.7 372.6,387.7 372.9,386.9C373.1,386.1 373.5,385.3 373.9,384.5C374.3,383.7 374.8,382.9 375.3,382.0C375.8,381.1 376.6,380.0 377.1,379.0C377.6,378.0 378.1,377.1 378.4,375.9C378.7,374.7 378.7,373.2 378.7,372.0C378.7,370.8 378.7,369.8 378.6,368.6C378.5,367.4 378.2,366.2 377.9,365.0C377.6,363.8 377.2,362.4 377.0,361.2C376.8,360.0 376.6,359.0 376.5,358.0C376.4,357.0 376.3,356.1 376.3,355.1C376.3,354.1 376.5,353.0 376.7,352.0C376.9,351.0 377.1,350.0 377.3,349.0C377.5,348.0 377.6,347.0 377.7,346.0C377.8,345.0 378.0,343.9 378.0,342.9C378.0,341.9 377.9,341.0 377.8,340.0C377.7,339.0 377.5,337.9 377.5,336.7C377.5,335.5 377.8,334.2 378.0,333.0C378.2,331.8 378.5,330.6 378.8,329.4C379.1,328.2 379.3,327.2 379.6,326.0C379.9,324.8 380.2,323.3 380.5,322.0C380.8,320.7 381.1,319.2 381.4,318.0C381.7,316.8 382.0,315.9 382.3,314.7C382.6,313.5 382.8,312.1 383.1,311.0C383.3,309.9 383.7,308.3 383.8,307.8Z" fill="#1fa55a" stroke="#3a3a3a" stroke-width="0.5" stroke-linejoin="round"/>
<path d="M383.9,309V400" stroke="#444" stroke-width="0.35"/><path d="M383.9,345.3V384.5" stroke="#444" stroke-width="0.9"/><circle cx="383.9" cy="366" r="0.45" fill="#fff"/>
<text x="325.6" y="411.9" font-size="3.6" text-anchor="middle" class="ss" fill="#2a2a2a">DVINS_ape.zip</text>
<text x="383.9" y="411.9" font-size="3.6" text-anchor="middle" class="ss" fill="#2a2a2a">VINS_ape.zip</text>
<text x="354.8" y="416.8" font-size="3.6" text-anchor="middle" class="ss" fill="#2a2a2a">estimate</text>
<rect x="431.2" y="303" width="115.3" height="101.5" fill="#eaeaf2"/>
<path d="M431.2,303V404.5M448.7,303V404.5M466.2,303V404.5M483.7,303V404.5M501.2,303V404.5M518.7,303V404.5M536.2,303V404.5" stroke="#fff" stroke-width="0.38" fill="none"/>
<rect x="431.2" y="307.1" width="110.6" height="3.6" fill="#16a454"/>
<rect x="431.2" y="311.1" width="53.7" height="3.5" fill="#2463ad"/>
<rect x="431.2" y="324.3" width="1.6" height="3.6" fill="#16a454"/>
<rect x="431.2" y="328.3" width="3.0" height="3.8" fill="#2463ad"/>
<rect x="431.2" y="341.5" width="29.4" height="3.5" fill="#16a454"/>
<rect x="431.2" y="345.4" width="14.0" height="3.8" fill="#2463ad"/>
<rect x="431.2" y="358.6" width="40.1" height="3.6" fill="#16a454"/>
<rect x="431.2" y="362.6" width="18.7" height="3.8" fill="#2463ad"/>
<rect x="431.2" y="375.7" width="43.0" height="3.6" fill="#16a454"/>
<rect x="431.2" y="379.7" width="21.5" height="3.8" fill="#2463ad"/>
<rect x="431.2" y="392.9" width="52.1" height="3.8" fill="#16a454"/>
<rect x="431.2" y="397.1" width="25.9" height="3.9" fill="#2463ad"/>
<text x="428.0" y="311.9" font-size="3.6" text-anchor="end" class="ss" fill="#2a2a2a">max</text>
<text x="428.0" y="329.1" font-size="3.6" text-anchor="end" class="ss" fill="#2a2a2a">min</text>
<text x="428.0" y="346.2" font-size="3.6" text-anchor="end" class="ss" fill="#2a2a2a">std</text>
<text x="428.0" y="363.4" font-size="3.6" text-anchor="end" class="ss" fill="#2a2a2a">median</text>
<text x="428.0" y="380.5" font-size="3.6" text-anchor="end" class="ss" fill="#2a2a2a">mean</text>
<text x="428.0" y="397.9" font-size="3.6" text-anchor="end" class="ss" fill="#2a2a2a">rmse</text>
<text x="431.2" y="411.1" font-size="3.6" text-anchor="middle" class="ss" fill="#2a2a2a">0</text>
<text x="448.7" y="411.1" font-size="3.6" text-anchor="middle" class="ss" fill="#2a2a2a">100</text>
<text x="466.2" y="411.1" font-size="3.6" text-anchor="middle" class="ss" fill="#2a2a2a">200</text>
<text x="483.7" y="411.1" font-size="3.6" text-anchor="middle" class="ss" fill="#2a2a2a">300</text>
<text x="501.2" y="411.1" font-size="3.6" text-anchor="middle" class="ss" fill="#2a2a2a">400</text>
<text x="518.7" y="411.1" font-size="3.6" text-anchor="middle" class="ss" fill="#2a2a2a">500</text>
<text x="536.2" y="411.1" font-size="3.6" text-anchor="middle" class="ss" fill="#2a2a2a">600</text>
<text x="488.6" y="417.0" font-size="3.6" text-anchor="middle" class="ss" fill="#2a2a2a">APE (m)</text>
<rect x="411.2" y="355" width="2.8" height="16" fill="#fff"/>
<rect x="505.1" y="389.8" width="39.6" height="13.1" fill="#eaeaf2" fill-opacity="0.8" stroke="#d8d8e0" stroke-width="0.3" rx="0.8"/>
<rect x="507.6" y="393.0" width="6.9" height="1.6" fill="#2463ad"/>
<text x="517.0" y="395.1" font-size="3.6" text-anchor="start" class="ss" fill="#2a2a2a">DVINS_ape.zip</text>
<rect x="507.6" y="398.6" width="6.9" height="1.6" fill="#16a454"/>
<text x="517.0" y="400.7" font-size="3.6" text-anchor="start" class="ss" fill="#2a2a2a">VINS_ape.zip</text>
</g>
<text x="272.8" y="131.7" font-size="11.7" letter-spacing="0.22" text-anchor="middle" class="cap" fill="#1a1a1a">(<tspan font-weight="bold">a</tspan>) Rural sidewalk (low dynamics)</text>
<text x="273" y="287.3" font-size="11.7" letter-spacing="0.22" text-anchor="middle" class="cap" fill="#1a1a1a">(<tspan font-weight="bold">b</tspan>) Rural road (high dynamics)</text>
<text x="272.7" y="440.7" font-size="11.7" letter-spacing="0.22" text-anchor="middle" class="cap" fill="#1a1a1a">(c) City road (medium dynamics)</text>
</svg>
</body></html>
